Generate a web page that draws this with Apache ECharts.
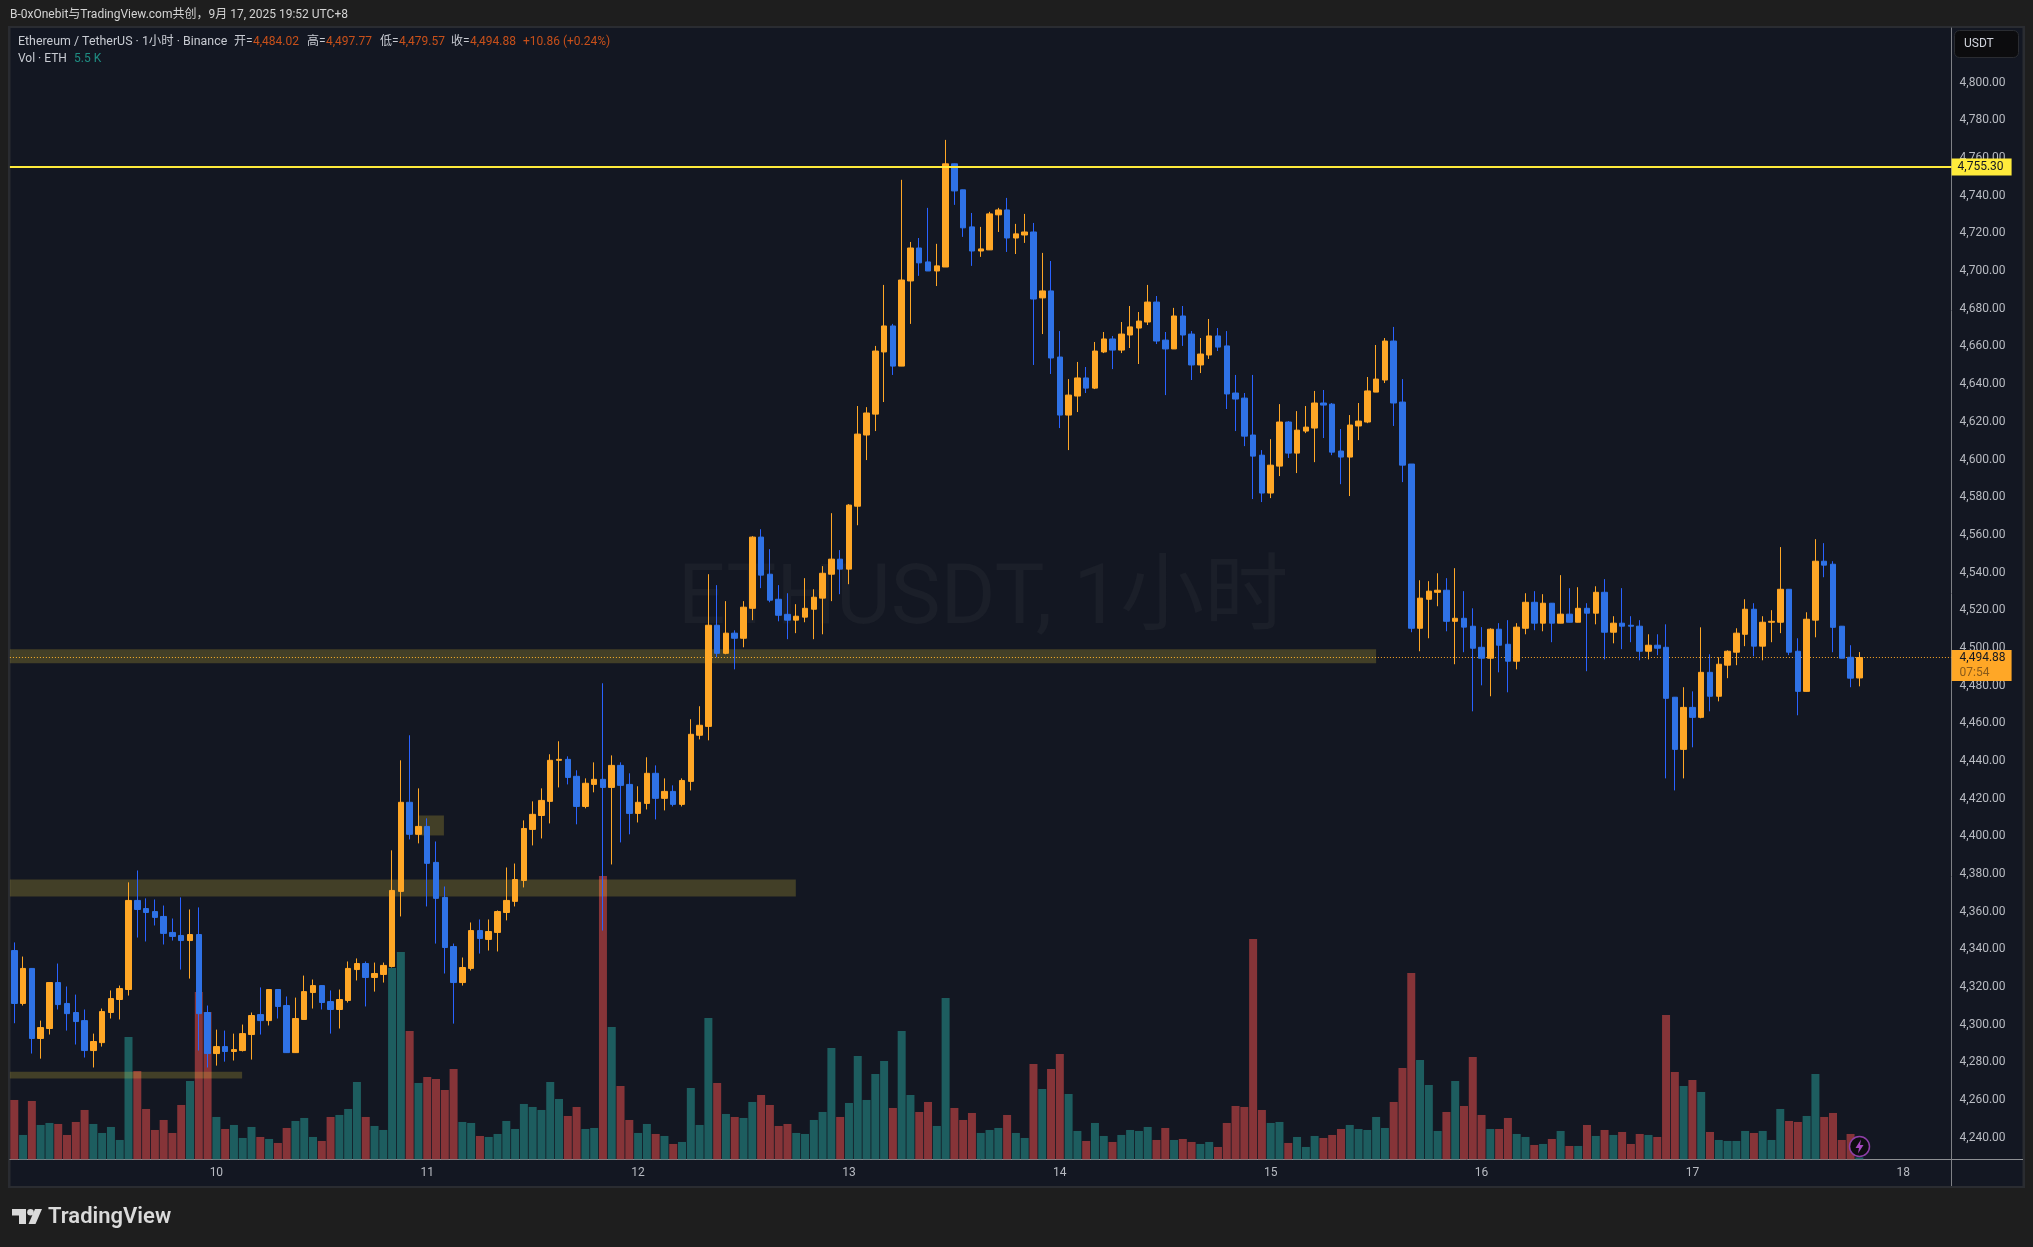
<!DOCTYPE html>
<html>
<head>
<meta charset="utf-8">
<title>ETHUSDT 1小时</title>
<script src="https://cdn.jsdelivr.net/npm/echarts@6/dist/echarts.min.js"></script>
<style>
  html, body { margin: 0; padding: 0; background: #1e1e1e; }
  #chart { width: 2033px; height: 1247px; }
</style>
</head>
<body>
<div id="chart"></div>
<script>
// hourly candles, first one is Sep 9 01:00, last one Sep 17 19:00
const opens = [
  4339.3,4311.2,4329.8,4292.6,4297.9,4322.3,4311.2,4306.4,4302.1,4286.2,
  4290.4,4306.4,4313.3,4318.6,4365.9,4361.6,4360.0,4357.4,4348.9,4347.3,
  4344.6,4347.8,4306.4,4284.6,4288.3,4285.7,4286.2,4294.7,4305.3,4302.1,
  4318.6,4310.1,4285.1,4302.7,4317.0,4320.7,4312.2,4308.0,4312.8,4329.2,
  4332.4,4325.0,4326.6,4330.8,4370.7,4418.0,4401.0,4405.2,4386.1,4367.5,
  4341.4,4322.3,4329.8,4349.9,4345.2,4348.9,4359.5,4365.4,4376.5,4403.6,
  4411.0,4418.5,4440.3,4440.8,4431.8,4415.8,4427.5,4430.2,4425.9,4437.6,
  4427.5,4412.1,4417.4,4433.4,4420.1,4423.8,4416.9,4429.1,4453.6,4458.3,
  4512.0,4497.1,4507.8,4505.1,4521.0,4558.8,4539.1,4525.8,4517.8,4514.7,
  4516.3,4520.5,4526.4,4539.1,4547.1,4541.8,4575.2,4613.0,4624.1,4657.1,
  4670.9,4649.6,4694.8,4712.3,4704.9,4700.1,4702.2,4757.0,4743.2,4723.5,
  4710.7,4711.3,4729.9,4732.5,4717.6,4719.2,4720.8,4685.8,4689.5,4654.4,
  4623.6,4633.7,4643.3,4637.9,4657.1,4664.0,4658.1,4666.1,4669.8,4673.0,
  4683.6,4663.4,4658.7,4676.2,4666.6,4650.2,4655.5,4665.6,4660.3,4635.3,
  4632.6,4613.0,4602.3,4582.2,4596.5,4619.9,4603.4,4615.1,4616.7,4630.0,
  4629.4,4604.5,4601.3,4617.8,4619.9,4635.8,4642.2,4662.9,4630.5,4597.6,
  4510.4,4525.8,4529.5,4530.6,4514.1,4515.7,4511.5,4500.3,4494.5,4509.9,
  4501.9,4492.9,4510.4,4524.2,4513.1,4523.7,4513.1,4517.9,4513.6,4521.0,
  4518.4,4529.5,4508.3,4513.1,4512.0,4511.5,4498.2,4501.4,4500.3,4473.8,
  4446.1,4468.4,4463.1,4487.0,4474.3,4490.8,4497.7,4507.2,4520.5,4500.9,
  4513.6,4513.6,4531.1,4498.2,4476.9,4514.7,4546.0,4544.4,4511.5,4495.0,4484.02
];
const closes = [
  4311.2,4329.8,4292.6,4298.4,4322.3,4310.6,4305.8,4301.6,4286.2,4291.0,
  4306.9,4313.8,4319.1,4365.9,4361.1,4359.5,4356.9,4348.4,4346.8,4344.6,
  4347.8,4305.8,4284.6,4288.3,4285.7,4286.7,4295.2,4304.8,4302.1,4318.6,
  4309.6,4285.1,4303.2,4317.5,4320.7,4311.7,4308.0,4313.3,4329.8,4332.4,
  4325.0,4327.1,4331.4,4371.2,4418.0,4401.0,4405.2,4385.6,4367.0,4340.9,
  4322.3,4330.3,4349.9,4345.7,4349.4,4360.0,4365.9,4377.0,4404.1,4411.6,
  4419.0,4440.3,4440.8,4431.2,4415.8,4428.1,4430.2,4425.9,4437.6,4427.0,
  4412.1,4418.0,4433.4,4420.1,4423.8,4416.9,4429.6,4454.1,4458.9,4512.0,
  4497.1,4507.8,4505.1,4521.6,4558.8,4538.6,4525.3,4517.3,4514.7,4516.8,
  4521.0,4526.9,4539.6,4547.1,4541.8,4575.8,4613.5,4624.7,4657.6,4670.9,
  4649.6,4695.3,4712.3,4704.4,4700.1,4702.8,4757.0,4742.6,4723.0,4710.7,
  4711.8,4730.4,4732.5,4717.6,4719.8,4720.8,4685.2,4689.5,4653.9,4623.6,
  4634.2,4643.3,4637.9,4657.6,4664.0,4658.1,4666.6,4670.4,4673.5,4683.6,
  4662.9,4658.7,4676.2,4666.1,4650.2,4656.0,4665.6,4659.7,4634.8,4632.1,
  4612.4,4601.8,4582.2,4597.0,4619.9,4603.4,4615.6,4617.2,4630.0,4628.9,
  4603.9,4601.3,4618.3,4620.4,4636.4,4642.7,4662.9,4630.0,4597.0,4510.4,
  4526.4,4530.1,4530.6,4514.1,4515.7,4511.0,4499.8,4494.5,4509.9,4501.4,
  4492.9,4511.0,4524.2,4513.1,4523.7,4513.1,4517.9,4513.6,4521.0,4518.4,
  4529.5,4508.3,4513.1,4511.5,4511.5,4498.2,4501.4,4499.8,4473.2,4446.1,
  4468.4,4463.1,4487.0,4474.3,4491.3,4498.2,4507.8,4520.5,4500.9,4513.6,
  4514.1,4531.1,4497.7,4476.9,4515.2,4546.0,4543.9,4510.9,4494.5,4483.9,4494.88
];
const lows = [
  4300.7,4310.1,4284.6,4281.9,4294.7,4308.0,4296.8,4289.4,4282.5,4277.2,
  4288.3,4303.2,4302.7,4315.4,4346.2,4344.1,4352.6,4342.5,4344.6,4329.2,
  4324.4,4286.2,4277.2,4278.2,4280.3,4280.9,4285.7,4281.4,4294.7,4299.5,
  4303.2,4285.1,4285.1,4302.7,4308.5,4308.0,4295.2,4297.9,4311.7,4323.4,
  4309.6,4317.5,4322.3,4330.3,4357.4,4398.3,4396.2,4362.7,4343.0,4327.1,
  4300.5,4320.7,4328.7,4337.7,4339.3,4338.8,4355.3,4362.7,4372.8,4395.1,
  4398.8,4406.8,4425.9,4427.5,4406.3,4414.8,4423.3,4349.9,4385.0,4396.7,
  4401.0,4407.3,4414.2,4408.9,4413.7,4415.8,4415.8,4424.3,4451.4,4450.9,
  4495.0,4496.6,4488.6,4500.3,4514.7,4531.7,4524.2,4514.1,4504.6,4507.8,
  4513.6,4504.6,4507.2,4524.8,4528.5,4533.8,4565.1,4599.7,4615.1,4630.5,
  4644.9,4649.6,4672.0,4697.5,4700.1,4692.1,4702.2,4735.2,4718.2,4702.8,
  4707.6,4711.3,4720.8,4710.2,4709.1,4715.0,4650.2,4666.6,4645.4,4616.7,
  4605.0,4625.2,4635.3,4637.4,4656.5,4648.0,4656.5,4659.2,4650.7,4671.4,
  4661.3,4634.2,4658.7,4660.3,4642.2,4645.9,4653.4,4657.6,4626.8,4615.1,
  4607.1,4579.0,4577.4,4579.5,4591.2,4600.8,4592.8,4614.0,4598.6,4611.4,
  4602.3,4586.9,4580.6,4610.3,4619.3,4635.8,4640.6,4617.8,4588.0,4508.3,
  4498.2,4505.1,4522.1,4508.8,4491.3,4497.7,4466.3,4480.1,4474.3,4487.0,
  4476.4,4488.6,4507.2,4509.4,4508.8,4503.0,4513.1,4513.6,4513.6,4487.6,
  4512.5,4493.9,4502.4,4499.3,4503.0,4493.4,4493.9,4496.1,4430.7,4424.3,
  4430.7,4447.2,4462.6,4466.3,4471.6,4483.9,4490.8,4500.9,4495.5,4493.4,
  4503.0,4507.8,4496.1,4464.2,4476.9,4505.6,4537.5,4497.7,4494.5,4479.1,4479.57
];
const highs = [
  4343.6,4336.1,4329.8,4302.1,4322.3,4332.4,4320.2,4315.9,4308.0,4295.2,
  4308.5,4318.1,4320.7,4375.5,4381.8,4367.0,4366.4,4363.2,4356.3,4367.5,
  4361.1,4362.2,4310.1,4297.3,4296.8,4295.2,4300.0,4306.4,4319.7,4318.6,
  4318.6,4314.9,4314.3,4326.0,4323.9,4320.7,4318.1,4318.6,4333.5,4335.1,
  4333.5,4332.9,4332.9,4392.5,4440.3,4453.6,4425.4,4409.5,4397.2,4373.3,
  4343.0,4335.6,4354.2,4355.8,4355.8,4360.6,4383.4,4385.5,4408.4,4418.5,
  4425.4,4443.5,4450.4,4442.4,4435.0,4430.7,4439.2,4481.2,4442.9,4439.2,
  4433.4,4426.5,4441.9,4437.6,4430.7,4427.0,4430.7,4462.1,4469.0,4539.1,
  4533.3,4524.8,4509.3,4524.8,4559.3,4563.0,4552.4,4533.3,4529.0,4523.2,
  4537.0,4531.1,4543.4,4571.5,4551.9,4576.3,4628.4,4627.8,4660.3,4692.7,
  4672.0,4748.5,4715.5,4717.6,4733.6,4714.5,4769.7,4757.0,4743.2,4730.9,
  4723.5,4731.5,4733.6,4738.9,4725.1,4730.4,4725.6,4709.7,4705.4,4668.2,
  4642.7,4651.8,4649.1,4662.4,4667.7,4665.6,4673.0,4681.5,4678.3,4692.7,
  4686.8,4667.7,4680.5,4681.5,4668.2,4664.5,4674.6,4669.8,4668.2,4644.9,
  4635.3,4644.9,4605.0,4610.8,4629.4,4620.4,4625.7,4628.4,4636.4,4636.9,
  4630.0,4616.2,4623.6,4630.0,4643.8,4660.8,4664.5,4670.4,4642.7,4597.6,
  4535.9,4535.4,4539.6,4537.0,4542.3,4530.1,4521.0,4511.0,4510.4,4513.1,
  4514.7,4513.1,4529.0,4530.1,4528.5,4523.7,4538.6,4531.7,4532.2,4523.7,
  4532.7,4536.5,4516.8,4531.7,4516.8,4514.7,4507.2,4507.2,4512.5,4473.8,
  4479.1,4476.9,4510.9,4496.6,4495.0,4498.7,4510.4,4525.8,4523.7,4516.8,
  4520.0,4553.5,4531.1,4505.1,4518.9,4557.7,4555.6,4546.0,4511.5,4501.4,4497.77
];
// volume in K ETH
const volumes = [
  178,73,175,103,109,106,73,112,148,106,79,97,58,367,265,151,88,118,79,163,
  235,502,442,127,91,103,64,97,67,61,49,94,115,124,67,55,127,133,151,232,
  127,100,88,574,622,385,229,247,241,208,271,112,109,70,67,76,115,91,166,157,
  148,232,181,130,157,91,94,850,397,220,118,79,106,76,70,46,52,214,103,424,
  229,136,127,124,172,193,163,100,106,79,76,118,142,334,127,169,310,178,256,295,
  154,385,193,142,172,100,484,154,118,139,79,88,94,133,79,64,286,211,271,316,
  196,85,55,109,70,52,73,88,85,97,58,94,58,61,52,46,52,37,109,160,
  157,661,148,109,112,49,67,37,70,64,73,91,103,91,88,127,94,172,274,559,
  298,223,85,142,235,160,307,133,91,91,124,76,67,43,46,61,85,40,40,103,
  70,88,73,82,46,76,73,67,433,262,220,238,202,82,58,55,55,85,79,85,
  58,151,115,112,130,256,127,139,58,76,5.5
];
const priceTicks = [4240,4260,4280,4300,4320,4340,4360,4380,4400,4420,4440,4460,4480,4500,4520,4540,4560,4580,4600,4620,4640,4660,4680,4700,4720,4740,4760,4780,4800];

// supply / demand boxes drawn on the chart (candle index, price)
const zoneFrom = [-0.5, -0.5, 45.95, -0.5];
const zoneTo = [155, 88.95, 48.9, 25.93];
const zoneLow = [4491.8, 4368, 4400.4, 4271.3];
const zoneHigh = [4499.3, 4377, 4411, 4275];

const resistancePrice = 4755.3;
const lastPrice = 4494.88;

const headerLine = 'B-0xOnebit与TradingView.com共创，9月 17, 2025 19:52 UTC+8';
const symbolLine = 'Ethereum / TetherUS · 1小时 · Binance';
const ohlcLabels = ['开=', '高=', '低=', '收='];
const ohlcValues = ['4,484.02', '4,497.77', '4,479.57', '4,494.88'];
const ohlcX = [234, 307, 380, 451];
const changeText = '+10.86 (+0.24%)';

const UI_FONT = 'Roboto, "Noto Sans CJK SC", sans-serif';
const BG = '#131722';
const ORANGE = '#FFA726';
const BLUE = '#2F72E6';
const WICK_BLUE = '#2962FF';
const TEAL_BAR = '#1D5D5F';
const RED_BAR = '#863438';

// 221 hourly slots, the last ten are still empty
const categories = Array.from({ length: 221 }, (_, i) => {
  const h = i + 1;
  return (9 + Math.floor(h / 24)) + ' ' + (h % 24);
});

const wickData = opens.map((o, i) => [o, closes[i], lows[i], highs[i]]);
const bodyData = opens.map((o, i) => [o, closes[i], Math.min(o, closes[i]), Math.max(o, closes[i])]);

function headerText(x, y, text, color, extra) {
  return {
    type: 'text', x: x, y: y, z: 20, silent: true,
    style: Object.assign({ text: text, fill: color, font: '12px ' + UI_FONT, textVerticalAlign: 'middle' }, extra || {})
  };
}

const graphics = [
  { type: 'rect', z: -10, silent: true, shape: { x: 8, y: 26, width: 2017, height: 1162 }, style: { fill: '#2A2C31' } },
  { type: 'rect', z: -9, silent: true, shape: { x: 10.5, y: 28, width: 2012, height: 1158 }, style: { fill: BG } },
  { type: 'text', z: -8, silent: true, x: 983, y: 602, style: { text: 'ETHUSDT, 1小时', fill: '#1B1F29', font: '84px ' + UI_FONT, textAlign: 'center', textVerticalAlign: 'middle' } },
  // axis lines carried on under the time scale and across the price scale
  { type: 'line', z: 1, silent: true, shape: { x1: 1951.5, y1: 1159, x2: 1951.5, y2: 1186 }, style: { stroke: '#7F8186', lineWidth: 1 } },
  { type: 'line', z: 1, silent: true, shape: { x1: 1951.5, y1: 1159.5, x2: 2023, y2: 1159.5 }, style: { stroke: '#8D8F93', lineWidth: 1 } },
  // USDT button
  { type: 'rect', z: 10, silent: true, shape: { x: 1954.5, y: 30.5, width: 64, height: 27, r: 5 }, style: { fill: '#0C0C0E', stroke: '#2A2C31', lineWidth: 1 } },
  headerText(1964, 44, 'USDT', '#D1D4DC'),
  headerText(10, 15, headerLine, '#D4D4D4'),
  headerText(18, 42, symbolLine, '#C8CBD2', { font: '12.4px ' + UI_FONT }),
  headerText(523, 42, changeText, '#C8501A'),
  headerText(18, 59, 'Vol · ETH', '#C8CBD2'),
  headerText(74, 59, '5.5 K', '#1F8D83'),
  // lightning badge on the last volume bar
  { type: 'circle', z: 10, silent: true, shape: { cx: 1859.5, cy: 1146.5, r: 10 }, style: { fill: '#0D0D10', stroke: '#8E3FA8', lineWidth: 1.5 } },
  { type: 'polygon', z: 11, silent: true, shape: { points: [[1861, 1139.5], [1855.5, 1148], [1859, 1148], [1858, 1153.5], [1863.5, 1145], [1860, 1145]] }, style: { fill: '#A548C0' } },
  // TradingView mark and wordmark
  { type: 'polygon', z: 10, silent: true, shape: { points: [[12, 1209], [26, 1209], [26, 1224], [19, 1224], [19, 1215.5], [12, 1215.5]] }, style: { fill: '#DADADA' } },
  { type: 'circle', z: 10, silent: true, shape: { cx: 30.5, cy: 1212.3, r: 3.3 }, style: { fill: '#DADADA' } },
  { type: 'polygon', z: 10, silent: true, shape: { points: [[35, 1209], [42, 1209], [35.5, 1224], [28.5, 1224]] }, style: { fill: '#DADADA' } },
  { type: 'text', z: 10, silent: true, x: 48, y: 1217, style: { text: 'TradingView', fill: '#DADADA', font: '600 22px ' + UI_FONT, textVerticalAlign: 'middle' } }
];
ohlcLabels.forEach((label, i) => {
  graphics.push(headerText(ohlcX[i], 42, label, '#C8CBD2'));
  graphics.push(headerText(ohlcX[i] + 19, 42, ohlcValues[i], '#C8501A'));
});

function renderZone(params, api) {
  const i = params.dataIndex;
  const band = api.size([1, 0])[0];
  const xAt = v => {
    const base = Math.max(0, Math.floor(v));
    return api.coord([base, zoneLow[i]])[0] + (v - base) * band;
  };
  const left = xAt(zoneFrom[i]);
  const right = xAt(zoneTo[i]);
  const top = api.coord([0, zoneHigh[i]])[1];
  const bottom = api.coord([0, zoneLow[i]])[1];
  return {
    type: 'rect',
    shape: { x: left, y: top, width: right - left, height: bottom - top },
    style: { fill: 'rgba(255,225,59,0.2)' }
  };
}

const chart = echarts.init(document.getElementById('chart'), null, { renderer: 'canvas' });

chart.setOption({
  animation: false,
  backgroundColor: '#1E1E1E',
  textStyle: { fontFamily: UI_FONT },
  graphic: graphics,
  grid: { left: 9.9, top: 28, width: 1941.7, height: 1131.3 },
  xAxis: {
    type: 'category',
    data: categories,
    boundaryGap: true,
    axisLine: { lineStyle: { color: '#8D8F93' } },
    axisTick: { show: false },
    splitLine: { show: false },
    axisLabel: {
      color: '#B8BBC2',
      fontSize: 12,
      margin: 8,
      interval: i => (i - 23) % 24 === 0,
      formatter: v => v.split(' ')[0]
    }
  },
  yAxis: [
    {
      type: 'value',
      position: 'right',
      min: 4228.46,
      max: 4829.1,
      axisLine: { show: true, lineStyle: { color: '#7F8186' } },
      axisTick: { show: false },
      splitLine: { show: false },
      axisLabel: {
        customValues: priceTicks,
        color: '#B8BBC2',
        fontSize: 12,
        margin: 8,
        formatter: v => v.toLocaleString('en-US', { minimumFractionDigits: 2, maximumFractionDigits: 2 })
      }
    },
    { type: 'value', show: false, min: 0, max: 3394, splitLine: { show: false } }
  ],
  series: [
    {
      name: 'Vol',
      type: 'bar',
      xAxisIndex: 0,
      yAxisIndex: 1,
      z: 2,
      barWidth: 8,
      data: volumes,
      itemStyle: { color: p => (closes[p.dataIndex] >= opens[p.dataIndex] ? TEAL_BAR : RED_BAR) }
    },
    {
      name: 'zones',
      type: 'custom',
      z: 3,
      renderItem: renderZone,
      data: zoneFrom.map((_, i) => [0, zoneLow[i]]),
      markLine: {
        z: 3,
        silent: true,
        symbol: 'none',
        animation: false,
        data: [{ yAxis: lastPrice }],
        lineStyle: { color: ORANGE, type: [1, 2], width: 1 },
        label: {
          show: true,
          position: 'end',
          distance: 0,
          offset: [0, 8],
          width: 60,
          height: 31,
          backgroundColor: ORANGE,
          padding: 0,
          formatter: '{a|4,494.88}\n{b|07:54}',
          rich: {
            a: { color: '#131722', fontSize: 12, lineHeight: 15, padding: [0, 0, 0, 8] },
            b: { color: '#8A5A1A', fontSize: 12, lineHeight: 15, padding: [0, 0, 0, 8] }
          }
        }
      }
    },
    {
      name: 'wicks',
      type: 'candlestick',
      z: 4,
      barWidth: 1,
      data: wickData,
      itemStyle: { color: ORANGE, color0: WICK_BLUE, borderColor: ORANGE, borderColor0: WICK_BLUE, borderWidth: 1 }
    },
    {
      name: 'ETHUSDT',
      type: 'candlestick',
      z: 5,
      barWidth: 6,
      data: bodyData,
      itemStyle: { color: ORANGE, color0: BLUE, borderColor: ORANGE, borderColor0: BLUE, borderWidth: 1 },
      markLine: {
        z: 6,
        silent: true,
        symbol: 'none',
        animation: false,
        data: [{ yAxis: resistancePrice }],
        lineStyle: { color: '#FFEB3B', type: 'solid', width: 2 },
        label: {
          show: true,
          position: 'end',
          distance: 0,
          width: 60,
          height: 17,
          lineHeight: 17,
          padding: 0,
          backgroundColor: '#FFEB3B',
          color: '#131722',
          fontSize: 12,
          formatter: '  4,755.30'
        }
      }
    }
  ]
});
</script>
</body>
</html>
